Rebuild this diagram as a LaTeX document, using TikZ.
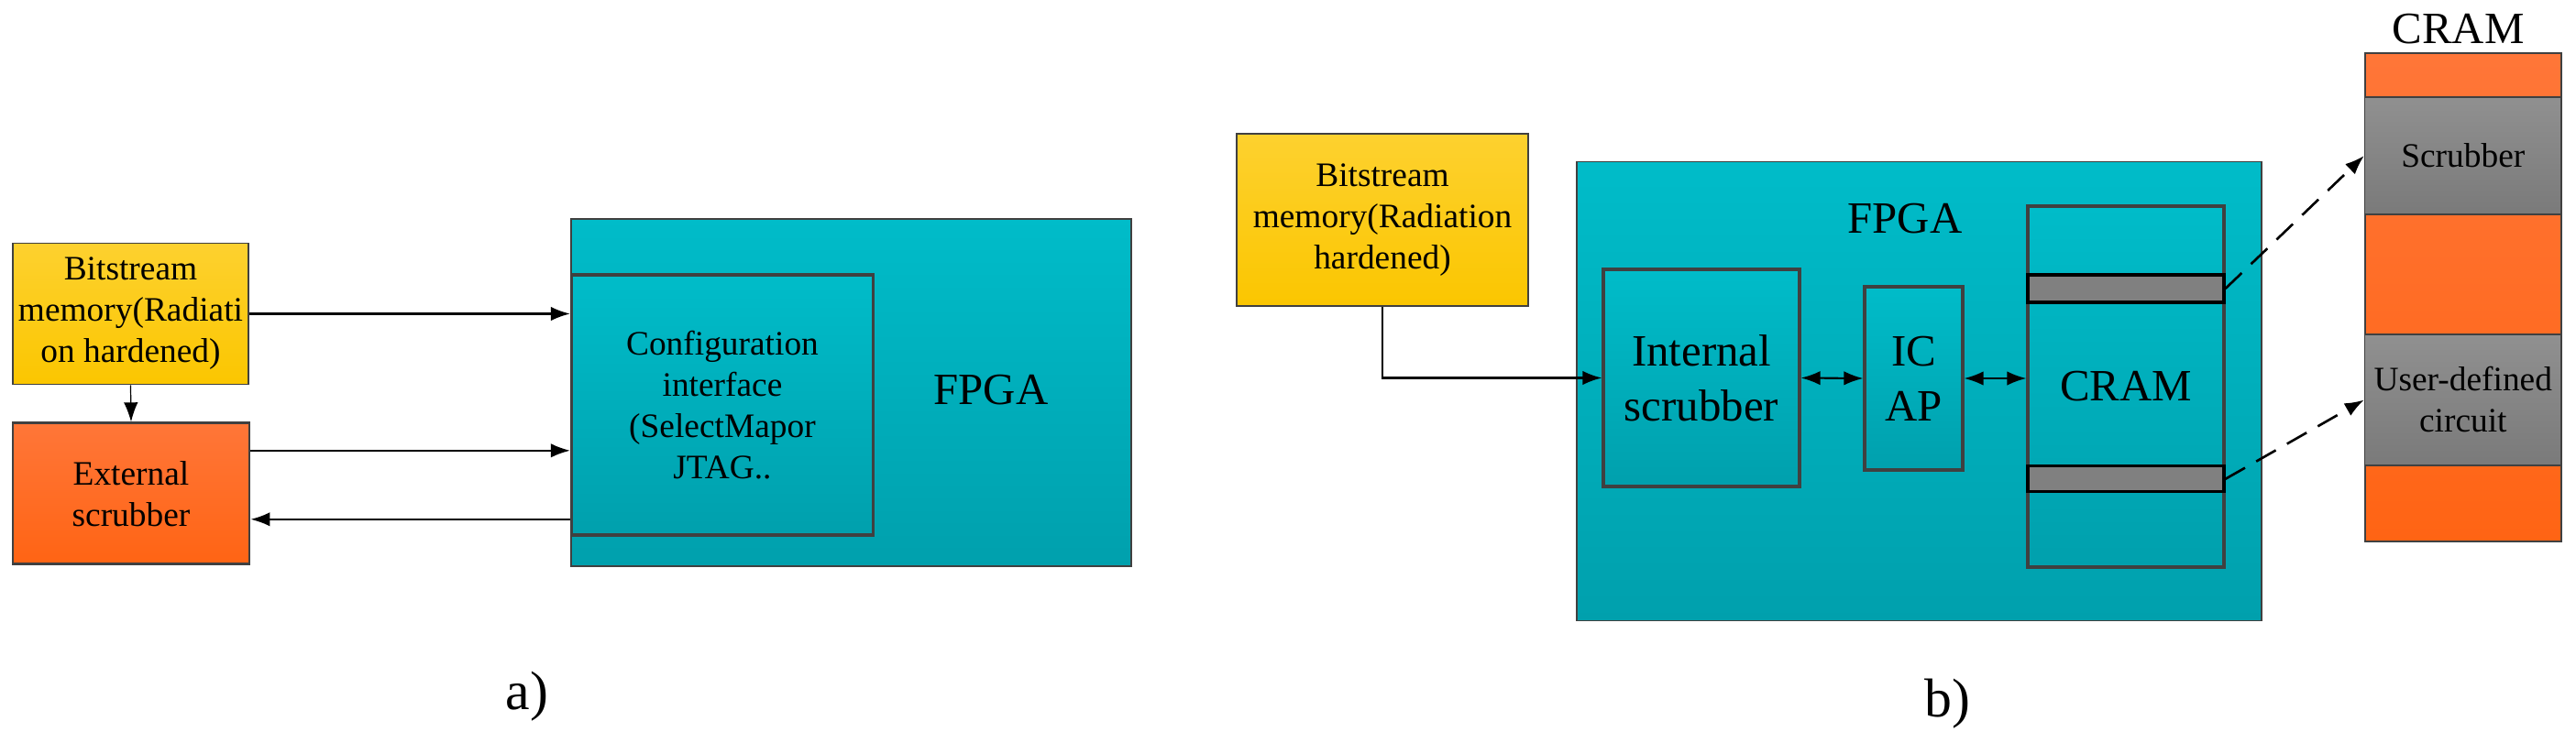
\documentclass[tikz,border=0pt]{standalone}
\usepackage{fontspec}
\setmainfont{Liberation Serif}
\usetikzlibrary{arrows.meta}
\usetikzlibrary{positioning}

\definecolor{tealtop}{HTML}{00BCC9}
\definecolor{tealbot}{HTML}{00A0AD}
\definecolor{edgegray}{HTML}{404040}
\definecolor{yellowtop}{HTML}{FDD12F}
\definecolor{yellowmid}{HTML}{FBC600}
\definecolor{orangetop}{HTML}{FF7638}
\definecolor{orangebot}{HTML}{FF6414}
\definecolor{graytop}{HTML}{909090}
\definecolor{graybot}{HTML}{7A7A7A}

\begin{document}
\begin{tikzpicture}[
	> = {Latex[length=6pt,width=4.4pt]},
	txt/.style = {inner sep=0pt,align=center,font=\fontsize{10.64}{12.8}\selectfont},
	bigtxt/.style = {inner sep=0pt,align=center,font=\fontsize{13.9}{17}\selectfont},
	captxt/.style = {inner sep=0pt,font=\fontsize{17}{20}\selectfont},
	plain box/.style = {draw=edgegray,line width=0.45pt,inner sep=0pt,align=center},
	yellowbox/.style = {plain box,txt,top color=yellowtop,middle color=yellowmid,bottom color=yellowmid},
	orangebox/.style = {plain box,txt,top color=orangetop,bottom color=orangebot,line width=0.8pt},
	tealbox/.style = {plain box,top color=tealtop,bottom color=tealbot},
	innerbox/.style = {tealbox,bigtxt,line width=0.9pt},
	bandbox/.style = {draw=black,fill=gray,line width=0.9pt,inner sep=0pt},
	graybox/.style = {plain box,txt,top color=graytop,bottom color=graybot},
	link/.style = {->,line width=0.6pt},
	dashlink/.style = {->,line width=0.75pt,dash pattern=on 7pt off 4pt}
	]
	\useasboundingbox (0,0) rectangle (28.1,8.1);

	% part a
	\node[yellowbox,minimum width=2.57cm,minimum height=1.54cm] (bitA) at (1.425,4.675) {Bitstream\\memory(Radiati\\on hardened)};
	\node[orangebox,minimum width=2.58cm,minimum height=1.54cm] (extA) at (1.43,2.712) {External\\scrubber};
	\node[tealbox,minimum width=6.11cm,minimum height=3.79cm] (fpgaA) at (9.285,3.815) {};
	\node[tealbox,txt,line width=0.9pt,minimum width=3.29cm,minimum height=2.84cm] (cfgA) at (7.88,3.68) {Configuration\\interface\\(SelectMapor\\JTAG..};
	\node[bigtxt] (fpgaAtxt) at (10.81,3.84) {FPGA};
	\node[captxt] (capA) at (5.75,0.5) {a)};

	\draw[link] (bitA.east) -- (bitA.east -| cfgA.west);
	\draw[link,line width=0.35pt] (bitA.south) -- (extA.north);
	\draw[link] ([yshift=0.47cm]extA.east) -- ([yshift=0.47cm]extA.east -| cfgA.west);
	\draw[link] ([yshift=-0.28cm]extA.east -| cfgA.west) -- ([yshift=-0.28cm]extA.east);

	% part b
	\node[yellowbox,minimum width=3.18cm,minimum height=1.88cm] (bitB) at (15.08,5.7) {Bitstream\\memory(Radiation\\hardened)};
	\node[tealbox,minimum width=7.47cm,minimum height=5.01cm] (fpgaB) at (20.935,3.83) {};
	\node[bigtxt] (fpgaBtxt) at (20.78,5.71) {FPGA};
	\node[innerbox,minimum width=2.14cm,minimum height=2.37cm] (intB) at (18.56,3.975) {Internal\\scrubber};
	\node[innerbox,minimum width=1.07cm,minimum height=2.0cm] (icapB) at (20.875,3.97) {IC\\AP};
	\node[innerbox,minimum width=2.14cm,minimum height=3.94cm] (cramB) at (23.19,3.88) {CRAM};
	\node[bandbox,minimum width=2.14cm,minimum height=0.3cm] (bandT) at (23.19,4.95) {};
	\node[bandbox,minimum width=2.14cm,minimum height=0.28cm] (bandU) at (23.19,2.872) {};
	\node[captxt] (capB) at (21.245,0.42) {b)};

	\draw[link] (bitB.south) |- (intB.west);
	\draw[link,<->] (intB.east) -- (icapB.west);
	\draw[link,<->] (icapB.east) -- (icapB.east -| cramB.west);

	% cram map
	\node[bigtxt] (mapTitle) at (26.816,7.78) {CRAM};
	\node[orangebox,line width=0.6pt,minimum width=2.143cm,minimum height=5.33cm] (cramMap) at (26.868,4.855) {};
	\node[graybox,minimum width=2.143cm,minimum height=1.28cm] (scrubMap) at (26.868,6.4) {Scrubber};
	\node[graybox,minimum width=2.143cm,minimum height=1.43cm] (userMap) at (26.868,3.735) {User-defined\\circuit};

	\draw[dashlink] (bandT.east) -- (scrubMap.west);
	\draw[dashlink] (bandU.east) -- (userMap.west);

\end{tikzpicture}
\end{document}
